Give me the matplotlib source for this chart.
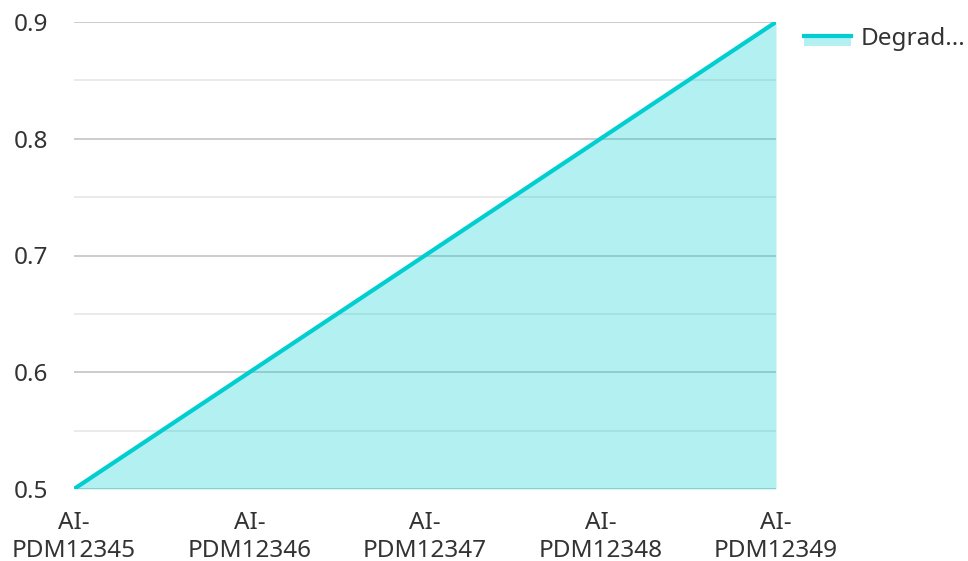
import numpy as np
import matplotlib.pyplot as plt
from matplotlib.lines import Line2D

plt.rcParams['font.family'] = ['Noto Sans', 'DejaVu Sans']

# degradation score per asset
assets = ['AI-\nPDM12345', 'AI-\nPDM12346', 'AI-\nPDM12347', 'AI-\nPDM12348', 'AI-\nPDM12349']
degradation = [0.5, 0.6, 0.7, 0.8, 0.9]
series_name = 'Degrad...'

line_color = '#00CED1'
fill_alpha = 0.3
text_color = '#333333'
fs = 17.5

fig = plt.figure(figsize=(9.68, 5.61), dpi=100)
ax = fig.add_axes([74 / 968, 1 - 489 / 561, (776 - 74) / 968, (489 - 22) / 561])

x = np.arange(len(assets))
ax.fill_between(x, 0.5, degradation, color=line_color, alpha=fill_alpha,
                linewidth=0, zorder=2)
ax.plot(x, degradation, color=line_color, linewidth=3, zorder=3,
        solid_capstyle='round')

ax.set_xlim(0, len(assets) - 1)
ax.set_ylim(0.5, 0.9)
ax.set_yticks([0.5, 0.6, 0.7, 0.8, 0.9])
ax.set_yticklabels(['0.5', '0.6', '0.7', '0.8', '0.9'])
ax.set_yticks(np.arange(0.55, 0.9, 0.1), minor=True)
ax.set_xticks(x)
ax.set_xticklabels(assets, linespacing=1.2)

ax.grid(axis='y', which='major', color='#c8c8c8', linewidth=1.3, zorder=1)
ax.grid(axis='y', which='minor', color='#e8e8e8', linewidth=1.3, zorder=1)
for s in ax.spines.values():
    s.set_visible(False)
ax.tick_params(axis='both', which='both', length=0, labelsize=fs,
               colors=text_color)
ax.tick_params(axis='y', pad=18.5)
ax.tick_params(axis='x', pad=16)
for gl in ax.get_ygridlines():
    gl.set_zorder(1)


class FillLineHandler:
    # a thick line on top of a pale band, like the area series
    def legend_artist(self, legend, orig_handle, fontsize, handlebox):
        x0, y0 = handlebox.xdescent, handlebox.ydescent
        w, h = handlebox.width, handlebox.height
        band = plt.Rectangle((x0, y0), w, h * 0.6, facecolor=line_color,
                             alpha=fill_alpha, edgecolor='none',
                             transform=handlebox.get_transform())
        line = Line2D([x0, x0 + w], [y0 + h * 0.7, y0 + h * 0.7],
                      color=line_color, linewidth=3,
                      transform=handlebox.get_transform())
        handlebox.add_artist(band)
        handlebox.add_artist(line)
        return line


fig.legend([series_name], [series_name], handler_map={str: FillLineHandler()},
           loc='upper left', bbox_to_anchor=(782 / 968, 1 - 5 / 561),
           frameon=False, fontsize=fs, handlelength=1.95, handleheight=0.55,
           handletextpad=0.4, labelcolor=text_color)

fig.savefig('out.png', dpi=100)
